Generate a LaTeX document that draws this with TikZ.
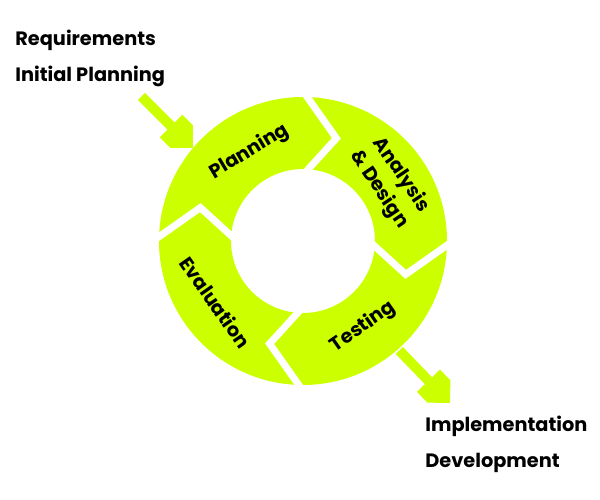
\documentclass[tikz,border=0pt]{standalone}
\usepackage{fontspec}
\setmainfont{Poppins}
\definecolor{cyclegreen}{HTML}{CCFF00}
\begin{document}
\begin{tikzpicture}[x=0.02cm, y=0.02cm,
    every node/.style={font=\bfseries\fontsize{11}{15}\selectfont, inner sep=0pt},
    ringtext/.style={align=center},
    gap/.style={white, line width=4pt, line join=miter}]
    \useasboundingbox (0,0) rectangle (600,500);
    \coordinate (c) at (303,259);

    % Ring with four chevron gaps
    \fill[cyclegreen, even odd rule] (c) circle (144) (c) circle (72);
    \foreach \a in {90,0,-90,180}
        \draw[gap, shift={(c)}] (\a:150) -- ({\a-18}:108) -- (\a:66);

    % Phases
    \node[ringtext, rotate=31] (plan) at ([shift={(121:104)}]c) {Planning};
    \node[ringtext, rotate=-56] (anal) at ([shift={(34:105)}]c) {Analysis\\\& Design};
    \node[ringtext, rotate=35] (test) at ([shift={(-55:105)}]c) {Testing};
    \node[ringtext, rotate=-55] (eval) at ([shift={(215:107)}]c) {Evaluation};

    % Input and output
    \node[anchor=base west] (req) at (15,454) {Requirements};
    \node[anchor=base west] (init) at (15,418) {Initial Planning};
    \node[anchor=base west] (impl) at (425,68) {Implementation};
    \node[anchor=base west] (dev) at (425,32) {Development};

    % Block arrows
    \coordinate (inTip) at (193,352);
    \coordinate (outTip) at (450,97);
    \foreach \t/\r in {inTip/-45, outTip/-46}
        \fill[cyclegreen, shift={(\t)}, rotate=\r]
            (-73,5) -- (-31,5) -- (-31,16) -- (-16,16) -- (0,0)
            -- (-16,-16) -- (-31,-16) -- (-31,-5) -- (-73,-5) -- cycle;
\end{tikzpicture}
\end{document}
